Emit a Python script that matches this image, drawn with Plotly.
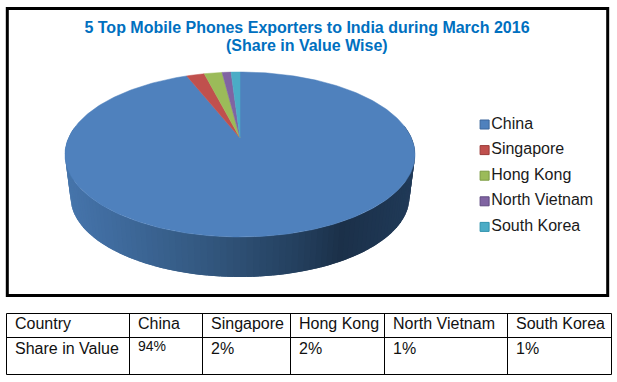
import numpy as np
import plotly.graph_objects as go

# --- data -------------------------------------------------------------
title_line1 = "5 Top Mobile Phones Exporters to India during March 2016"
title_line2 = "(Share in Value Wise)"
countries = ["China", "Singapore", "Hong Kong", "North Vietnam", "South Korea"]
shares = [94, 2, 2, 1, 1]
share_labels = ["94%", "2%", "2%", "1%", "1%"]
row_header = "Country"
row_label = "Share in Value"
colors = ["#4F81BD", "#C0504D", "#9BBB59", "#8064A2", "#4BACC6"]
edge_colors = ["#3A659B", "#9A3B38", "#7B9B40", "#5F4A80", "#2F93AE"]

# --- layout constants -------------------------------------------------
W, H = 617, 382
CX, APEX_Y, HALF_W, HALF_H, PERSP = 240, 138, 171.5, 79.2, 0.2
LOWER_SCALE, LOWER_Y = 0.968, 181.2
LEGEND_X, LEGEND_TOP, LEGEND_STEP = 484.6, 124.5, 25.6
TABLE_X = [6.5, 129.5, 202.5, 290.5, 384.5, 507.5, 611.5]
TABLE_Y = [313.5, 337.5, 374.5]
TEXT_X = [14, 137, 210, 297.5, 392, 515]
ROW1_Y, ROW2_Y = [323] * 6, [348, 346, 348, 348, 348, 348]

def project(t, scale=1.0, y0=APEX_Y):
    u, v = np.sin(t), np.cos(t)
    d = 1 + PERSP * v
    return CX + scale * HALF_W * u / d, y0 - scale * HALF_H * v / d

def side_color(x):
    xs = [65, 90, 200, 300, 340, 415]
    r = np.interp(x, xs, [0x46, 0x42, 0x33, 0x23, 0x1B, 0x20])
    g = np.interp(x, xs, [0x75, 0x6F, 0x58, 0x3E, 0x30, 0x3A])
    b = np.interp(x, xs, [0xAB, 0xA4, 0x80, 0x5C, 0x49, 0x58])
    return f"rgb({r:.0f},{g:.0f},{b:.0f})"

fig = go.Figure()

# side wall, painted so each slice overlaps the previous one
edges = np.linspace(np.pi * 1.55, np.pi * 0.45, 111)
for a, b in zip(edges[:-1], edges[1:]):
    end = max(b - 0.03, edges[-1])
    ts = np.linspace(a, end, 4)
    xt, yt = project(ts)
    xb, yb = project(ts[::-1], LOWER_SCALE, LOWER_Y)
    c = side_color(float(xt[0]))
    fig.add_trace(go.Scatter(
        x=np.r_[xt, xb, xt[0]], y=np.r_[yt, yb, yt[0]], mode="lines",
        fill="toself", fillcolor=c, line=dict(color=c, width=0),
        hoverinfo="skip", showlegend=False))

# top face wedges, clockwise from 12 o'clock
fractions = np.cumsum([0] + shares) / sum(shares)
for name, c0, c1, col in zip(countries, fractions[:-1], fractions[1:], colors):
    ts = np.linspace(c0, c1, max(4, int((c1 - c0) * 360))) * 2 * np.pi
    xs, ys = project(ts)
    fig.add_trace(go.Scatter(
        x=np.r_[CX, xs, CX], y=np.r_[APEX_Y, ys, APEX_Y], mode="lines",
        fill="toself", fillcolor=col, line=dict(color=col, width=0.5),
        name=name, hoverinfo="name", showlegend=False))

# legend entries
for i, (name, col, ec) in enumerate(zip(countries, colors, edge_colors)):
    fig.add_trace(go.Scatter(
        x=[LEGEND_X], y=[LEGEND_TOP + i * LEGEND_STEP], mode="markers+text", name=name,
        text=[name], textposition="middle right", showlegend=False, hoverinfo="name",
        textfont=dict(family="Liberation Sans", size=16, color="#1a1a1a"),
        marker=dict(symbol="square", size=9, color=col, line=dict(color=ec, width=1))))

# chart frame and table grid
shapes = [dict(type="rect", xref="x", yref="y", x0=7.3, x1=607.7, y0=8.5, y1=295.5,
               line=dict(color="black", width=3), fillcolor="rgba(0,0,0,0)")]
for xv in TABLE_X:
    shapes.append(dict(type="line", xref="x", yref="y", x0=xv, x1=xv, y0=TABLE_Y[0], y1=TABLE_Y[-1],
                       line=dict(color="black", width=1)))
for yv in TABLE_Y:
    shapes.append(dict(type="line", xref="x", yref="y", x0=TABLE_X[0], x1=TABLE_X[-1], y0=yv, y1=yv,
                       line=dict(color="black", width=1)))

annotations = [dict(text=title_line2, x=307, y=45, xref="x", yref="y", showarrow=False,
                    xanchor="center", yanchor="middle",
                    font=dict(family="Liberation Sans", size=16, color="#0070C0", weight="bold"))]
row1 = [row_header] + countries
row2 = [row_label] + share_labels
sizes2 = [16, 14, 16, 16, 16, 16]
for j, xv in enumerate(TEXT_X):
    annotations.append(dict(text=row1[j], x=xv, y=ROW1_Y[j], xref="x", yref="y", showarrow=False,
                            xanchor="left", yanchor="middle", xshift=-1,
                            font=dict(family="Liberation Sans", size=16, color="#111111")))
    annotations.append(dict(text=row2[j], x=xv, y=ROW2_Y[j], xref="x", yref="y", showarrow=False,
                            xanchor="left", yanchor="middle", xshift=-1,
                            font=dict(family="Liberation Sans", size=sizes2[j], color="#111111")))

fig.update_layout(
    width=W, height=H, autosize=False,
    margin=dict(l=0, r=0, t=0, b=0),
    paper_bgcolor="white", plot_bgcolor="white",
    font=dict(family="Liberation Sans", size=16, color="#1a1a1a"),
    title=dict(text=title_line1, x=307 / W, xanchor="center", y=1 - 27 / H, yanchor="middle",
               font=dict(family="Liberation Sans", size=16, color="#0070C0", weight="bold")),
    xaxis=dict(range=[0, W], visible=False, fixedrange=True),
    yaxis=dict(range=[H, 0], visible=False, fixedrange=True),
    shapes=shapes, annotations=annotations, showlegend=False,
)
fig.write_html("out.html", config=dict(displayModeBar=False),
               post_script="document.body.style.margin='0';")
